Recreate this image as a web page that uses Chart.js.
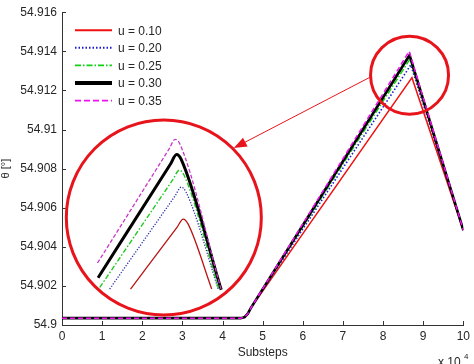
<!DOCTYPE html>
<html>
<head>
<meta charset="utf-8">
<script src="https://cdn.jsdelivr.net/npm/chart.js@4.4.1/dist/chart.umd.min.js"></script>
<style>
html,body{margin:0;padding:0;background:#fff;}
#wrap{width:474px;height:364px;}
</style>
</head>
<body>
<div id="wrap"><canvas id="myChart" width="474" height="364"></canvas></div>
<script>
// values, x in units of 10^4 substeps, y in degrees
const seriesLabels = ['u = 0.10', 'u = 0.20', 'u = 0.25', 'u = 0.30', 'u = 0.35'];

const u10X = [0, 4.45, 4.55, 4.63, 4.70, 8.72, 10];
const u10Y = [54.90035, 54.90035, 54.9004, 54.90058, 54.90085, 54.91265, 54.90485];
const u20X = [0, 4.45, 4.55, 4.63, 4.70, 8.69, 10];
const u20Y = [54.90035, 54.90035, 54.9004, 54.90058, 54.90085, 54.9133, 54.90485];
const u25X = [0, 4.45, 4.55, 4.63, 4.70, 8.67, 10];
const u25Y = [54.90035, 54.90035, 54.9004, 54.90058, 54.90085, 54.9136, 54.90485];
const u30X = [0, 4.45, 4.55, 4.63, 4.70, 8.66, 10];
const u30Y = [54.90035, 54.90035, 54.9004, 54.90058, 54.90085, 54.9138, 54.90485];
const u35X = [0, 4.45, 4.55, 4.63, 4.70, 8.65, 10];
const u35Y = [54.90035, 54.90035, 54.9004, 54.90058, 54.90085, 54.9140, 54.90485];

// zoomed copy of the peaks drawn inside the big circle
const inset10X = [1.708, 2.87, 3.02, 3.14, 3.73];
const inset10Y = [54.90184, 54.90501, 54.90542, 54.90517, 54.90184];
const inset20X = [1.188, 2.82, 2.97, 3.09, 3.894];
const inset20Y = [54.90184, 54.90661, 54.90705, 54.9068, 54.90184];
const inset25X = [0.941, 2.77, 2.921, 3.04, 3.911];
const inset25Y = [54.90192, 54.90746, 54.90792, 54.90767, 54.9018];
const inset30X = [0.899, 2.70, 2.854, 2.97, 3.968];
const inset30Y = [54.90242, 54.90822, 54.90872, 54.90847, 54.9018];
const inset35X = [0.884, 2.67, 2.82, 2.94, 3.96];
const inset35Y = [54.90317, 54.90901, 54.9095, 54.90925, 54.90185];

const xTicks = [0, 1, 2, 3, 4, 5, 6, 7, 8, 9, 10];
const yTicks = [54.9, 54.902, 54.904, 54.906, 54.908, 54.91, 54.912, 54.914, 54.916];
const yTickLabels = ['54.9', '54.902', '54.904', '54.906', '54.908', '54.91', '54.912', '54.914', '54.916'];

function pts(xs, ys) {
    return xs.map((x, i) => ({ x: x, y: ys[i] }));
}

const styles = [
    { color: '#f01010', width: 1.5, dash: [], insetColor: '#b81414', insetWidth: 1.3, insetDash: [] },
    { color: '#1a1ad0', width: 1.6, dash: [1.5, 2], insetColor: '#2a2aa8', insetWidth: 1.3, insetDash: [1.2, 1.6] },
    { color: '#12d012', width: 1.5, dash: [6, 2, 1.5, 2], insetColor: '#22c822', insetWidth: 1.4, insetDash: [5, 2, 1.5, 2] },
    { color: '#000000', width: 2.6, dash: [], insetColor: '#000000', insetWidth: 3, insetDash: [] },
    { color: '#f010f0', width: 1.5, dash: [5, 3], insetColor: '#c838c8', insetWidth: 1.3, insetDash: [4, 2] }
];

const mainPts = [pts(u10X, u10Y), pts(u20X, u20Y), pts(u25X, u25Y), pts(u30X, u30Y), pts(u35X, u35Y)];
const insetPts = [pts(inset10X, inset10Y), pts(inset20X, inset20Y), pts(inset25X, inset25Y), pts(inset30X, inset30Y), pts(inset35X, inset35Y)];

let datasets = [];
mainPts.forEach((d, i) => {
    datasets.push({
        label: seriesLabels[i],
        data: d,
        borderColor: styles[i].color,
        borderWidth: styles[i].width,
        borderDash: styles[i].dash,
        pointRadius: 0,
        tension: 0,
        order: 10 - i
    });
});
insetPts.forEach((d, i) => {
    datasets.push({
        label: 'zoom ' + seriesLabels[i],
        data: d,
        borderColor: styles[i].insetColor,
        borderWidth: styles[i].insetWidth,
        borderDash: styles[i].insetDash,
        pointRadius: 0,
        cubicInterpolationMode: 'monotone',
        order: 20 - i
    });
});

const textColor = '#262626';
const font = 'Liberation Sans, Arial, sans-serif';

const extras = {
    id: 'extras',
    afterDatasetsDraw(chart) {
        const ctx = chart.ctx;
        const xs = chart.scales.x, ys = chart.scales.y;
        const a = chart.chartArea;
        ctx.save();
        // inner tick marks, matlab style
        ctx.strokeStyle = '#333';
        ctx.lineWidth = 1;
        ctx.beginPath();
        xTicks.forEach(v => {
            const px = Math.round(xs.getPixelForValue(v)) + 0.5;
            ctx.moveTo(px, a.bottom);
            ctx.lineTo(px, a.bottom - 4);
        });
        yTicks.forEach(v => {
            const py = Math.round(ys.getPixelForValue(v)) + 0.5;
            ctx.moveTo(a.left, py);
            ctx.lineTo(a.left + 4, py);
        });
        ctx.stroke();

        // circles and arrow
        const red = '#e8141c';
        ctx.strokeStyle = red;
        ctx.lineWidth = 3;
        ctx.beginPath();
        ctx.arc(xs.getPixelForValue(2.537), ys.getPixelForValue(54.9055), 97.5, 0, Math.PI * 2);
        ctx.stroke();
        ctx.beginPath();
        ctx.arc(xs.getPixelForValue(8.66), ys.getPixelForValue(54.91278), 39, 0, Math.PI * 2);
        ctx.stroke();

        const tx = xs.getPixelForValue(7.70), ty = ys.getPixelForValue(54.9127);
        const hx = xs.getPixelForValue(4.28), hy = ys.getPixelForValue(54.90905);
        const ang = Math.atan2(hy - ty, hx - tx);
        ctx.lineWidth = 1;
        ctx.beginPath();
        ctx.moveTo(tx, ty);
        ctx.lineTo(hx - 10 * Math.cos(ang), hy - 10 * Math.sin(ang));
        ctx.stroke();
        ctx.fillStyle = red;
        ctx.beginPath();
        ctx.moveTo(hx, hy);
        ctx.lineTo(hx - 13 * Math.cos(ang) + 5 * Math.sin(ang), hy - 13 * Math.sin(ang) - 5 * Math.cos(ang));
        ctx.lineTo(hx - 13 * Math.cos(ang) - 5 * Math.sin(ang), hy - 13 * Math.sin(ang) + 5 * Math.cos(ang));
        ctx.closePath();
        ctx.fill();

        // legend
        const legendW = [2, 2, 1.6, 4, 1.6];
        const legendDash = [[], [1.5, 2], [6, 2, 1.5, 2], [], [6, 3]];
        ctx.font = '12px ' + font;
        ctx.textBaseline = 'middle';
        seriesLabels.forEach((lab, i) => {
            const y = a.top + 18 + i * 17.6;
            ctx.strokeStyle = styles[i].color;
            ctx.lineWidth = legendW[i];
            ctx.setLineDash(legendDash[i]);
            ctx.beginPath();
            ctx.moveTo(a.left + 13, y);
            ctx.lineTo(a.left + 50, y);
            ctx.stroke();
            ctx.setLineDash([]);
            ctx.fillStyle = textColor;
            ctx.fillText(lab, a.left + 56, y + 1);
        });

        // exponent label
        ctx.font = '12px ' + font;
        ctx.textBaseline = 'alphabetic';
        ctx.fillText('x 10', 438, 366);
        ctx.font = '8px ' + font;
        ctx.fillText('4', 464, 359);
        ctx.restore();
    }
};

new Chart(document.getElementById('myChart').getContext('2d'), {
    type: 'line',
    data: { datasets: datasets },
    options: {
        responsive: false,
        animation: false,
        events: [],
        layout: { padding: { top: 5, right: 8, left: 0, bottom: 0 } },
        plugins: { legend: { display: false }, tooltip: { enabled: false } },
        scales: {
            x: {
                type: 'linear',
                min: 0,
                max: 10,
                afterBuildTicks: s => { s.ticks = xTicks.map(v => ({ value: v })); },
                afterFit: s => { s.height = 39; },
                grid: { display: true, drawOnChartArea: false, drawTicks: false },
                border: { display: true, color: '#333', width: 1 },
                ticks: { color: textColor, font: { family: font, size: 12 }, padding: 4, maxRotation: 0 },
                title: { display: true, text: 'Substeps', color: textColor, font: { family: font, size: 12 }, padding: { top: 0, bottom: 4 } }
            },
            y: {
                type: 'linear',
                min: 54.9,
                max: 54.916,
                afterBuildTicks: s => { s.ticks = yTicks.map(v => ({ value: v })); },
                afterFit: s => { s.width = 62; },
                grid: { display: true, drawOnChartArea: false, drawTicks: false },
                border: { display: true, color: '#333', width: 1 },
                ticks: {
                    color: textColor,
                    font: { family: font, size: 12 },
                    padding: 5,
                    callback: (v, i) => yTickLabels[i]
                },
                title: { display: true, text: 'θ [°]', color: textColor, font: { family: font, size: 11, lineHeight: 1 }, padding: 0 }
            }
        }
    },
    plugins: [extras]
});
</script>
</body>
</html>
